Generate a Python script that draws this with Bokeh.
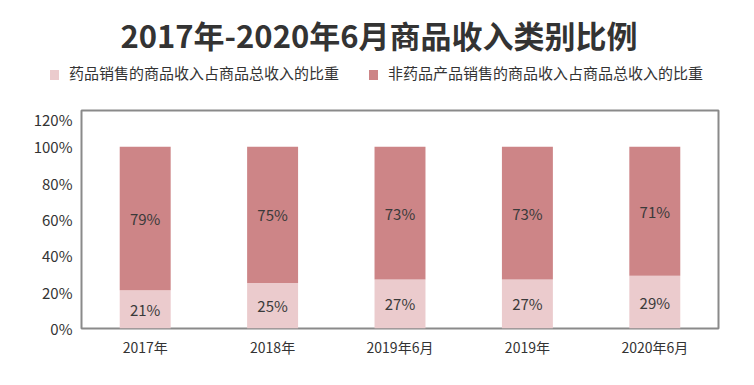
from bokeh.plotting import figure
from bokeh.layouts import column
from bokeh.models import (ColumnDataSource, Div, FixedTicker, LabelSet, NumeralTickFormatter, Range1d)
from bokeh.core.properties import value
from bokeh.embed import file_html
from bokeh.resources import INLINE

categories = ["2017年", "2018年", "2019年6月", "2019年", "2020年6月"]
drug_share = [0.21, 0.25, 0.27, 0.27, 0.29]
non_drug_share = [0.79, 0.75, 0.73, 0.73, 0.71]
series_names = ["药品销售的商品收入占商品总收入的比重", "非药品产品销售的商品收入占商品总收入的比重"]
y_ticks = [0, 0.2, 0.4, 0.6, 0.8, 1.0, 1.2]
title_text = "2017年-2020年6月商品收入类别比例"

FONT = "Noto Sans CJK SC"
LIGHT = "#ebcbcd"
DARK = "#cd8587"
W = 754
H_TOP = 108
H_MAIN = 277

# ---------- header: title + legend (HTML text) ----------
legend_x = [50, 369]
items_html = ""
for name, color, lx in zip(series_names, [LIGHT, DARK], legend_x):
    items_html += (
        f'<div style="position:absolute;left:{lx}px;top:70px;width:9px;height:10px;background:{color};"></div>'
        f'<div style="position:absolute;left:{lx + 19}px;top:63px;font-size:15px;line-height:20px;'
        f'color:#333333;white-space:nowrap;">{name}</div>'
    )
header_html = (
    f'<div style="position:relative;width:{W}px;height:{H_TOP}px;font-family:\'{FONT}\';background:white;">'
    f'<div style="position:absolute;left:2px;top:15px;width:{W}px;text-align:center;font-size:31px;'
    f'font-weight:bold;line-height:40px;color:#333333;white-space:nowrap;">{title_text}</div>'
    f'{items_html}</div>'
)
head = Div(text=header_html, width=W, height=H_TOP, margin=(0, 0, 0, 0))

# ---------- main chart ----------
src = ColumnDataSource(dict(
    cat=categories,
    drug=drug_share,
    non=non_drug_share,
    top=[a + b for a, b in zip(drug_share, non_drug_share)],
    drug_mid=[a / 2 for a in drug_share],
    non_mid=[a + b / 2 for a, b in zip(drug_share, non_drug_share)],
    drug_lbl=[f"{round(v*100)}%" for v in drug_share],
    non_lbl=[f"{round(v*100)}%" for v in non_drug_share],
))

p = figure(width=W, height=H_MAIN, x_range=categories, y_range=Range1d(0, 1.2),
           output_backend="svg", toolbar_location=None,
           min_border_left=81, min_border_right=36, min_border_top=2, min_border_bottom=57)
p.background_fill_color = "white"
p.border_fill_color = "white"
p.outline_line_color = "#8a8a8a"
p.outline_line_width = 2
p.xgrid.grid_line_color = None
p.ygrid.grid_line_color = None

p.vbar(x="cat", bottom=0, top="drug", width=0.4, source=src, fill_color=LIGHT, line_color=None,
       legend_label=series_names[0])
p.vbar(x="cat", bottom="drug", top="top", width=0.4, source=src, fill_color=DARK, line_color=None,
       legend_label=series_names[1])
p.legend.visible = False

for yf, tf in (("drug_mid", "drug_lbl"), ("non_mid", "non_lbl")):
    p.add_layout(LabelSet(x="cat", y=yf, text=tf, source=src, text_align="center",
                          text_baseline="middle", text_font=value(FONT), text_font_size=value("15px"),
                          text_color="#3a3a3a"))

p.yaxis.ticker = FixedTicker(ticks=y_ticks)
p.yaxis.formatter = NumeralTickFormatter(format="0%")
for ax in (p.xaxis[0], p.yaxis[0]):
    ax.axis_line_color = None
    ax.major_tick_line_color = None
    ax.minor_tick_line_color = None
    ax.major_tick_out = 0
    ax.major_tick_in = 0
    ax.minor_tick_out = 0
    ax.major_label_text_font = FONT
    ax.major_label_text_color = "#333333"
p.xaxis.major_label_text_font_size = "14px"
p.yaxis.major_label_text_font_size = "15px"
p.xaxis.major_label_standoff = 8
p.yaxis.major_label_standoff = 9

layout = column(head, p, spacing=0)
open("out.html", "w").write(file_html(layout, INLINE))
